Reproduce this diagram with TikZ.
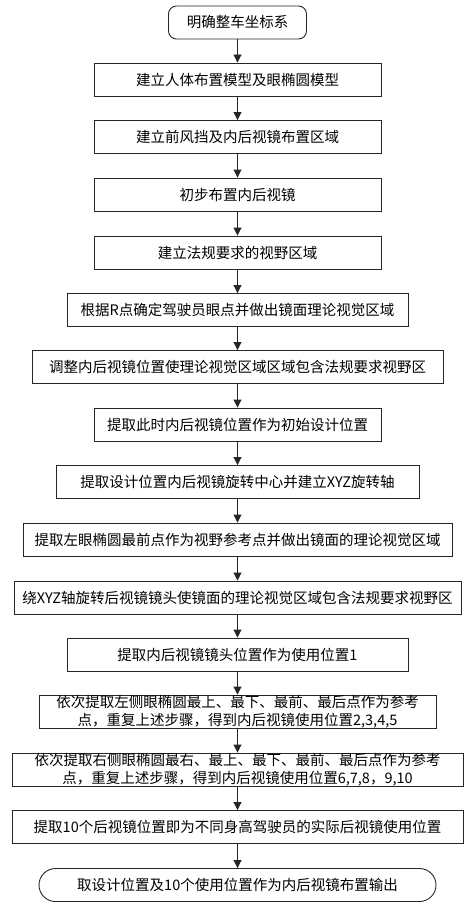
\documentclass[tikz,border=0pt]{standalone}
\usepackage{fontspec}
\setmainfont{Noto Sans CJK SC}
\usetikzlibrary{arrows.meta}

\begin{document}
\begin{tikzpicture}[x=1pt, y=-1pt,
                    process/.style={rectangle, draw=black!85, line width=0.9pt, minimum height=33pt, inner sep=0pt, align=center,
                                    font=\fontsize{14.5pt}{18pt}\selectfont},
                    terminal/.style={process, rounded corners=16.5pt},
                    link/.style={-{Triangle[length=8pt,width=8pt]}, line width=0.9pt, draw=black!85}]
    \useasboundingbox (0,0) rectangle (474,907);

    % Start
    \node[process, rounded corners=8pt, minimum width=138pt] (start) at (237.5,22.5) {明确整车坐标系};

    % Models and regions
    \node[process, minimum width=287pt] (model) at (237.5,79.5) {建立人体布置模型及眼椭圆模型};
    \node[process, minimum width=287pt] (region) at (237.5,137) {建立前风挡及内后视镜布置区域};
    \node[process, minimum width=287pt] (initial) at (237.5,194.5) {初步布置内后视镜};
    \node[process, minimum width=287pt] (legal) at (237.5,252.5) {建立法规要求的视野区域};

    % Design position
    \node[process, minimum width=341pt] (eyepoint) at (237.5,310) {根据R点确定驾驶员眼点并做出镜面理论视觉区域};
    \node[process, minimum width=411pt] (adjust) at (237.5,367) {调整内后视镜位置使理论视觉区域区域包含法规要求视野区};
    \node[process, minimum width=287pt] (design) at (237.5,424.5) {提取此时内后视镜位置作为初始设计位置};

    % Use positions
    \node[process, minimum width=363pt] (axis) at (237.5,482) {提取设计位置内后视镜旋转中心并建立XYZ旋转轴};
    \node[process, minimum width=429pt] (leftfront) at (237.5,539.5) {提取左眼椭圆最前点作为视野参考点并做出镜面的理论视觉区域};
    \node[process, minimum width=447pt] (rotate) at (237.5,597.5) {绕XYZ轴旋转后视镜镜头使镜面的理论视觉区域包含法规要求视野区};
    \node[process, minimum width=341pt] (useone) at (237.5,654.5) {提取内后视镜镜头位置作为使用位置1};
    \node[process, minimum width=397pt] (leftall) at (237.5,711.5) {依次提取左侧眼椭圆最上、最下、最前、最后点作为参考\\点，重复上述步骤，得到内后视镜使用位置2,3,4,5};
    \node[process, minimum width=451pt] (rightall) at (237.5,769.5) {依次提取右侧眼椭圆最右、最上、最下、最前、最后点作为参考\\点，重复上述步骤，得到内后视镜使用位置6,7,8，9,10};
    \node[process, minimum width=451pt] (useall) at (237.5,827) {提取10个后视镜位置即为不同身高驾驶员的实际后视镜使用位置};

    % Output
    \node[terminal, minimum width=397pt] (output) at (237.5,885) {取设计位置及10个使用位置作为内后视镜布置输出};

    % Flow
    \draw[link] (start) -- (model);
    \draw[link] (model) -- (region);
    \draw[link] (region) -- (initial);
    \draw[link] (initial) -- (legal);
    \draw[link] (legal) -- (eyepoint);
    \draw[link] (eyepoint) -- (adjust);
    \draw[link] (adjust) -- (design);
    \draw[link] (design) -- (axis);
    \draw[link] (axis) -- (leftfront);
    \draw[link] (leftfront) -- (rotate);
    \draw[link] (rotate) -- (useone);
    \draw[link] (useone) -- (leftall);
    \draw[link] (leftall) -- (rightall);
    \draw[link] (rightall) -- (useall);
    \draw[link] (useall) -- (output);
\end{tikzpicture}
\end{document}
